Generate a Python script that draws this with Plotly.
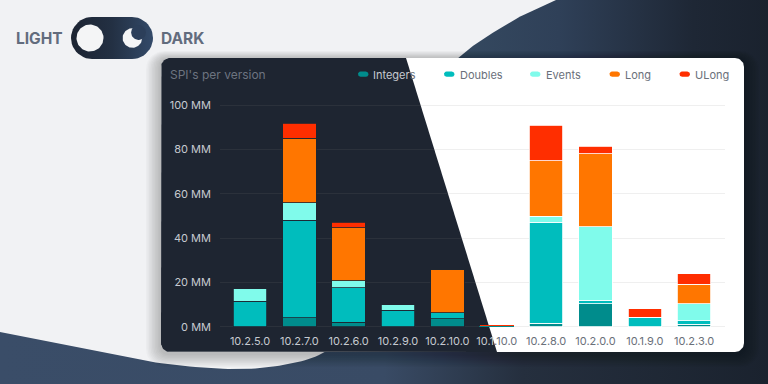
import numpy as np
import plotly.graph_objects as go

# ---- data -------------------------------------------------------------
versions = ["10.2.5.0", "10.2.7.0", "10.2.6.0", "10.2.9.0", "10.2.10.0",
            "10.1.10.0", "10.2.8.0", "10.2.0.0", "10.1.9.0", "10.2.3.0"]
integers = [0, 4.2, 2.1, 0, 3.7, 0.5, 1.7, 10.5, 0, 1.2]
doubles = [11.7, 43.8, 15.5, 7.5, 2.7, 0, 45.4, 1.5, 4.4, 1.7]
events = [5.7, 8.0, 3.3, 2.7, 0, 0, 2.8, 33.2, 0, 7.5]
long_ = [0, 29.0, 23.9, 0, 19.6, 0, 25.1, 32.8, 0, 8.8]
ulong = [0, 6.7, 2.3, 0, 0, 0, 15.8, 3.5, 3.8, 4.8]
series_names = ["Integers", "Doubles", "Events", "Long", "ULong"]
series_colors = ["#008c8c", "#00bdbd", "#80fbeb", "#ff7600", "#ff2e00"]
y_ticks = [0, 20, 40, 60, 80, 100]
y_tick_labels = ["0 MM", "20 MM", "40 MM", "60 MM", "80 MM", "100 MM"]

DARK = "#1e2531"
LIGHT_BG = "#f1f2f4"
W, H = 768, 384


# ---- decoration helpers (pixel space) ----------------------------------
def rrect(x0, y0, x1, y1, r):
    xs, ys = [], []
    for cx, cy, a0 in [(x1 - r, y0 + r, -90), (x1 - r, y1 - r, 0), (x0 + r, y1 - r, 90), (x0 + r, y0 + r, 180)]:
        t = np.radians(np.linspace(a0, a0 + 90, 12))
        xs += list(cx + r * np.cos(t))
        ys += list(cy + r * np.sin(t))
    return xs + xs[:1], ys + ys[:1]


def circle(cx, cy, r):
    t = np.radians(np.linspace(0, 360, 72))
    return list(cx + r * np.cos(t)), list(cy + r * np.sin(t))


def smooth(pts, n=12):
    p = [pts[0]] + pts + [pts[-1]]
    out = []
    for i in range(1, len(p) - 2):
        p0, p1, p2, p3 = [np.array(q, float) for q in p[i - 1:i + 3]]
        for t in np.linspace(0, 1, n, endpoint=False):
            out.append(0.5 * (2 * p1 + (p2 - p0) * t + (2 * p0 - 5 * p1 + 4 * p2 - p3) * t ** 2
                              + (3 * p1 - p0 - 3 * p2 + p3) * t ** 3))
    out.append(np.array(pts[-1], float))
    return [q[0] for q in out], [q[1] for q in out]


fig = go.Figure()


def blob(xs, ys, color=None, grad=None):
    kw = dict(x=xs, y=ys, mode="lines", line=dict(width=0), fill="toself",
              hoverinfo="skip", showlegend=False, xaxis="x", yaxis="y")
    if grad:
        kw["fillgradient"] = dict(type="horizontal", start=grad[0], stop=grad[1], colorscale=grad[2])
        kw["fillcolor"] = "rgba(0,0,0,0)"
    else:
        kw["fillcolor"] = color
    fig.add_trace(go.Scatter(**kw))


# background
blob([0, W, W, 0, 0], [0, 0, H, H, 0], LIGHT_BG)
cx, cy = smooth([(556, 0), (527, 13), (500.7, 28), (477, 43), (458, 58), (440, 75)])
blob(cx + [440, W, W, 556], cy + [320, 320, 0, 0],
     grad=(470, 768, [[0, "#34485f"], [0.3, "#2f4058"], [0.75, "#1e2735"], [1, "#1a222e"]]))
cx, cy = smooth([(0, 332), (50, 342), (100, 352), (167, 364), (233, 369), (283, 365), (325, 352), (360, 320)])
blob(cx + [W, W, 0, 0], cy + [300, H, H, 332],
     grad=(0, 768, [[0, "#3a4d68"], [0.5, "#394b65"], [0.68, "#252f3e"], [1, "#1a222e"]]))

# card shadow
for i in range(10, 0, -1):
    xs, ys = rrect(161 - i * 1.5, 59 - i * 0.8, 744 + i * 1.5, 354 + i * 1.3, 8 + i)
    blob(xs, ys, "rgba(0,0,0,0.022)")

# card: white with a dark diagonal part
xs, ys = rrect(161, 58, 744, 352, 9)
blob(xs, ys, "#ffffff")
xs_d, ys_d = rrect(161, 58, 744, 352, 9)
blob([497] + xs_d[24:48] + [406, 497], [352] + ys_d[24:48] + [58, 352], DARK)

# toggle
xs, ys = rrect(71, 17, 153, 59, 21)
blob(xs, ys, grad=(71, 153, [[0, "#1c2432"], [0.5, "#233043"], [1, "#334a69"]]))
blob(*circle(90, 38, 13.5), "#f4f5f6")
blob(*circle(132.4, 38, 9.8), "#f4f5f6")
blob(*circle(138.5, 32.5, 7.4), "#2c3f5a")

# legend keys
for kx, col in zip([358, 444, 530, 609.5, 679.5], series_colors):
    xs, ys = rrect(kx, 71.5, kx + 10.5, 76.8, 2.6)
    blob(xs, ys, col)

# ---- bars -------------------------------------------------------------
sep = [DARK] * 5 + ["#ffffff"] * 5
for name, vals, col in zip(series_names, [integers, doubles, events, long_, ulong], series_colors):
    line_cols = list(sep)
    line_cols[5] = col
    fig.add_trace(go.Bar(x=versions, y=vals, name=name, xaxis="x2", yaxis="y2", width=0.68,
                         marker=dict(color=col, line=dict(color=line_cols, width=0.8)), showlegend=False))

LT, GR = "#c6cad0", "#6a707a"
ticktext = [f'<span style="color:{LT}">{v}</span>' for v in versions[:5]]
ticktext.append(f'<span style="color:{LT}">10.1</span><span style="color:{GR}">.10.0</span>')
ticktext += [f'<span style="color:{GR}">{v}</span>' for v in versions[6:]]

annots = [dict(x=14, y=38, text="<b>LIGHT</b>", font=dict(size=15.5, color="#626c7d")),
          dict(x=159, y=38, text="<b>DARK</b>", font=dict(size=15.5, color="#626c7d")),
          dict(x=371, y=74.5, text=f'<span style="color:{LT}">Integer</span><span style="color:{GR}">s</span>',
               font=dict(size=11))]
for tx, name in zip([458, 544, 623, 693], series_names[1:]):
    annots.append(dict(x=tx, y=74.5, text=name, font=dict(size=11, color=GR)))
for a in annots:
    a.update(xref="x", yref="y", xanchor="left", yanchor="middle", showarrow=False, xshift=0)

fig.update_layout(
    width=W, height=H, autosize=False, margin=dict(l=0, r=0, t=0, b=0),
    paper_bgcolor=LIGHT_BG, plot_bgcolor="rgba(0,0,0,0)",
    font=dict(family="Inter, sans-serif"),
    barmode="stack", showlegend=False,
    title=dict(text="SPI's per version", x=170 / W, xanchor="left", xref="paper",
               y=1 - 75 / H, yanchor="middle", yref="paper", automargin=False,
               font=dict(size=12, color="#6d7480")),
    xaxis=dict(domain=[0, 1], range=[0, W], visible=False, fixedrange=True, automargin=False),
    yaxis=dict(domain=[0, 1], range=[H, 0], visible=False, fixedrange=True, automargin=False),
    xaxis2=dict(domain=[220 / W, 725 / W], range=[-0.608, 9.625], anchor="y2", type="category",
                categoryorder="array", categoryarray=versions, tickmode="array", automargin=False,
                tickvals=versions, ticktext=ticktext, tickangle=0, showgrid=False, zeroline=False,
                showline=False, ticks="", ticklabelstandoff=5,
                tickfont=dict(size=11, color=LT), fixedrange=True),
    yaxis2=dict(domain=[(H - 328.1) / H, (H - 103.9) / H], range=[-0.5, 100.5], anchor="x2",
                tickmode="array", tickvals=y_ticks, ticktext=y_tick_labels, automargin=False,
                gridcolor="rgba(128,128,128,0.13)", gridwidth=1, ticklabelstandoff=8,
                zeroline=False, showline=False, ticks="", tickfont=dict(size=11, color=LT), fixedrange=True),
    annotations=annots,
)
fig.write_html("out.html", config=dict(displayModeBar=False),
               post_script="document.body.style.margin='0';document.documentElement.style.overflow='hidden';")
